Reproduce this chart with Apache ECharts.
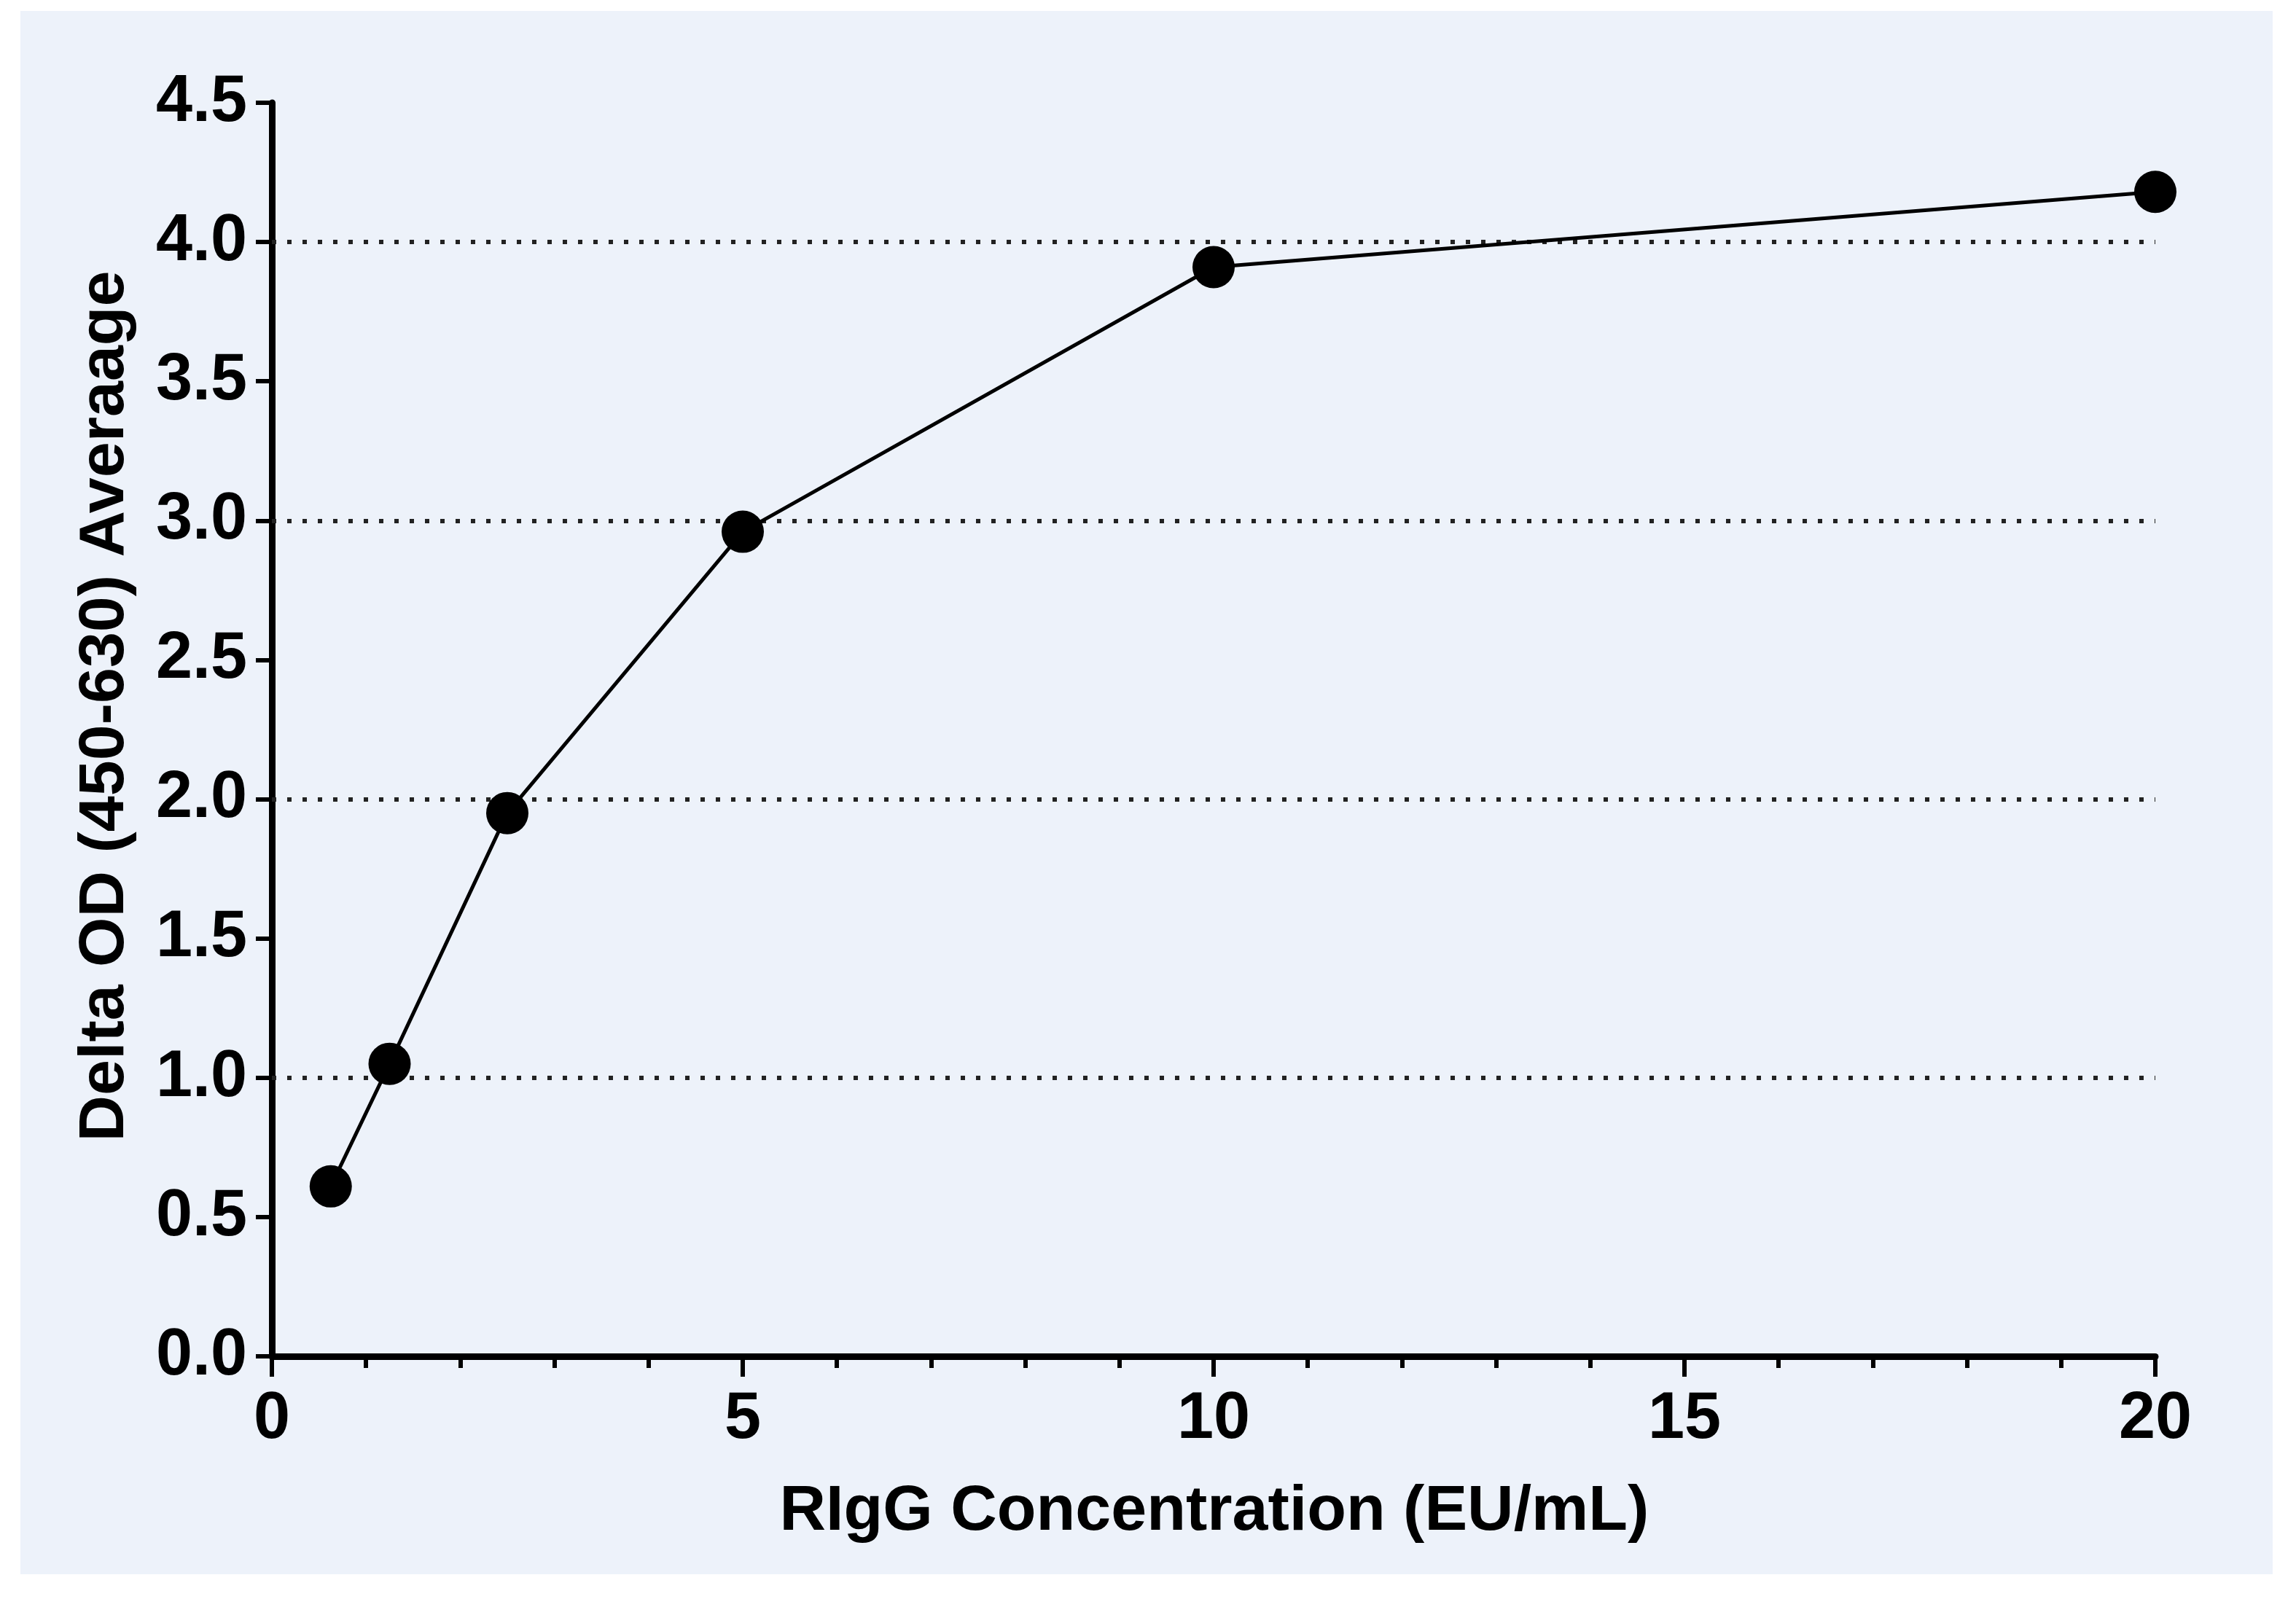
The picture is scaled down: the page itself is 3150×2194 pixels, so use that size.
<!DOCTYPE html>
<html>
<head>
<meta charset="utf-8">
<script src="https://cdn.jsdelivr.net/npm/echarts@6/dist/echarts.min.js"></script>
<style>
  html, body { margin: 0; padding: 0; background: #ffffff; width: 3150px; height: 2194px; overflow: hidden; }
  #panel { position: absolute; left: 28px; top: 15px; width: 3090px; height: 2145px; background: #EDF2FA; }
  #chart { position: absolute; left: 0; top: 0; width: 3090px; height: 2145px; }
</style>
</head>
<body>
<div id="panel"><div id="chart"></div></div>
<script>
// Data
const concentrations = [0.625, 1.25, 2.5, 5, 10, 20];
const odAverages = [0.61, 1.05, 1.95, 2.96, 3.91, 4.18];
const gridLevels = [1, 2, 3, 4];
const xTitle = 'RIgG Concentration (EU/mL)';
const yTitle = 'Delta OD (450-630) Averaage';

const points = concentrations.map((c, i) => [c, odAverages[i]]);
const font = "'Liberation Sans', Arial, Helvetica, sans-serif";

const chart = echarts.init(document.getElementById('chart'), null, { renderer: 'canvas' });
chart.setOption({
  backgroundColor: 'transparent',
  animation: false,
  grid: { left: 345, top: 126, width: 2584, height: 1720, containLabel: false },
  xAxis: {
    type: 'value', min: 0, max: 20, interval: 5,
    axisLine: { show: true, onZero: false, lineStyle: { color: '#000', width: 9 } },
    axisTick: { show: true, inside: false, length: 28, lineStyle: { color: '#000', width: 6 } },
    minorTick: { show: true, splitNumber: 5, length: 16, lineStyle: { color: '#000', width: 6 } },
    axisLabel: { color: '#000', fontSize: 90, fontWeight: 'bold', fontFamily: font, margin: 42 },
    splitLine: { show: false },
    minorSplitLine: { show: false }
  },
  yAxis: {
    type: 'value', min: 0, max: 4.5, interval: 0.5,
    axisLine: { show: true, onZero: false, lineStyle: { color: '#000', width: 9 } },
    axisTick: { show: true, inside: false, length: 22, lineStyle: { color: '#000', width: 6 } },
    axisLabel: { color: '#000', fontSize: 90, fontWeight: 'bold', fontFamily: font, margin: 34,
      formatter: v => v.toFixed(1) },
    splitLine: { show: false }
  },
  graphic: [
    {
      type: 'text', x: 1638, y: 2060,
      style: { text: xTitle, fill: '#000', font: 'bold 88px ' + font, textAlign: 'center', textVerticalAlign: 'middle' }
    },
    {
      type: 'text', x: 117, y: 954, rotation: Math.PI / 2,
      style: { text: yTitle, fill: '#000', font: 'bold 88px ' + font, textAlign: 'center', textVerticalAlign: 'middle' }
    }
  ],
  series: [{
    type: 'line',
    data: points,
    symbol: 'circle',
    symbolSize: 58,
    itemStyle: { color: '#000' },
    lineStyle: { color: '#000', width: 5 },
    z: 5,
    markLine: {
      silent: true,
      symbol: ['none', 'none'],
      label: { show: false },
      lineStyle: { color: '#222', width: 6, type: [6, 15] },
      data: gridLevels.map(v => ({ yAxis: v })),
      z: 1
    }
  }]
});
</script>
</body>
</html>
